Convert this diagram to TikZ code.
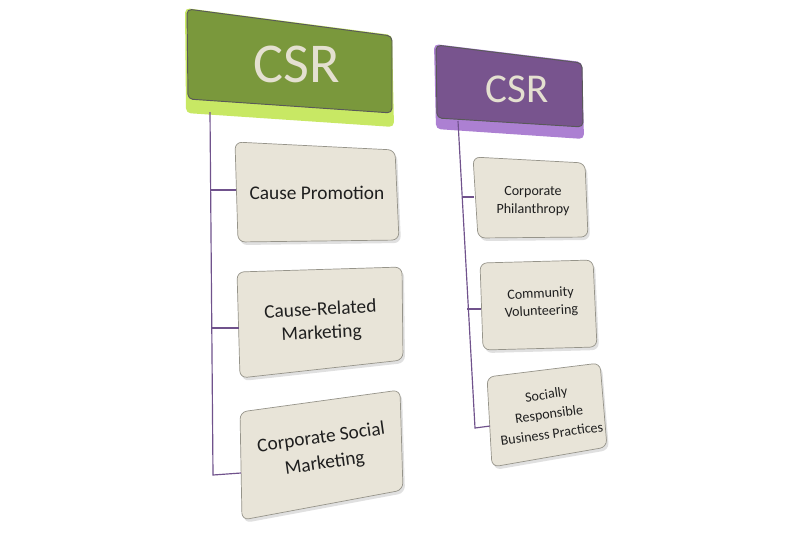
\documentclass[tikz,border=0pt]{standalone}
\usepackage{fontspec}
\setmainfont{Carlito}
\usetikzlibrary{positioning}
\definecolor{csrgreen}{RGB}{122,152,60}
\definecolor{csrgreenlt}{RGB}{200,232,100}
\definecolor{csrpurple}{RGB}{120,84,142}
\definecolor{csrpurplelt}{RGB}{172,128,210}
\definecolor{itembeige}{RGB}{232,228,216}
\definecolor{itemedge}{RGB}{150,148,138}
\definecolor{treeline}{RGB}{112,82,140}
\definecolor{headtext}{RGB}{228,224,208}
\tikzset{head rim/.style={rounded corners=4pt},
         head face/.style={rounded corners=4pt,draw=black!65,line width=0.8pt},
         item shadow/.style={rounded corners=6pt,fill=black!12},
         item face/.style={rounded corners=6pt,fill=itembeige,draw=itemedge,line width=0.6pt},
         head text/.style={text=headtext,inner sep=0pt},
         item text/.style={align=center,text=black!88,inner sep=0pt},
         tree line/.style={treeline,line width=1pt},
}

\begin{document}
\begin{tikzpicture}[x=0.3mm,y=-0.3mm]
\useasboundingbox[fill=white] (0,0) rectangle (800,534);

% green header
\fill[head rim,csrgreenlt] (185,8) -- (392,35) -- (394,127) -- (186,113) -- cycle;
\filldraw[head face,fill=csrgreen] (187,9) -- (392,36) -- (392,113) -- (188,99) -- cycle;
\node[head text,font=\fontsize{48}{50}\selectfont] (lhead) at (297,64) {CSR};

% purple header
\fill[head rim,csrpurplelt] (434,44) -- (582,62) -- (584,139) -- (436,129) -- cycle;
\filldraw[head face,fill=csrpurple] (436,45) -- (582,63) -- (583,127) -- (437,118) -- cycle;
\node[head text,font=\fontsize{35}{37}\selectfont] (rhead) at (517,89) {CSR};

% left column
\fill[item shadow] (237,145) -- (397,153) -- (401,243) -- (240,245) -- cycle;
\filldraw[item face] (235,142) -- (395,150) -- (399,240) -- (238,242) -- cycle;
\node[item text,font=\fontsize{16.5}{19}\selectfont] (cp) at (317,193) {Cause Promotion};

\fill[item shadow] (239,275) -- (404,270) -- (405,363) -- (242,381) -- cycle;
\filldraw[item face] (237,272) -- (402,267) -- (403,360) -- (240,378) -- cycle;
\node[item text,font=\fontsize{16.5}{20}\selectfont,rotate=3] (crm) at (321,322) {Cause-Related\\Marketing};

\fill[item shadow] (242,415) -- (402,393) -- (405,493) -- (244,523) -- cycle;
\filldraw[item face] (240,412) -- (400,390) -- (403,490) -- (242,520) -- cycle;
\node[item text,font=\fontsize{16.5}{22}\selectfont,rotate=8] (csm) at (323,451) {Corporate Social\\Marketing};

% right column
\fill[item shadow] (475,160) -- (587,166) -- (590,240) -- (480,241) -- cycle;
\filldraw[item face] (473,157) -- (585,163) -- (588,237) -- (478,238) -- cycle;
\node[item text,font=\fontsize{12}{15}\selectfont] (cph) at (533,201) {Corporate\\Philanthropy};

\fill[item shadow] (482,266) -- (595,263) -- (599,350) -- (485,353) -- cycle;
\filldraw[item face] (480,263) -- (593,260) -- (597,347) -- (483,350) -- cycle;
\node[item text,font=\fontsize{12}{15}\selectfont,rotate=3] (cv) at (541,303) {Community\\Volunteering};

\fill[item shadow] (489,380) -- (602,366) -- (609,450) -- (494,470) -- cycle;
\filldraw[item face] (487,377) -- (600,363) -- (607,447) -- (492,467) -- cycle;
\node[item text,font=\fontsize{12}{17}\selectfont,rotate=8] (srb) at (549,414) {Socially\\Responsible\\Business Practices};

% connectors
\coordinate (ltop) at (210,112);
\coordinate (l1) at (210,190);
\coordinate (l2) at (211.5,328);
\coordinate (lbot) at (213,475);
\coordinate (l1e) at (236,190);
\coordinate (l2e) at (238.5,328);
\coordinate (l3e) at (241,473);
\draw[tree line] (ltop) -- (lbot) -- (l3e);
\draw[tree line] (l1) -- (l1e);
\draw[tree line] (l2) -- (l2e);

\coordinate (rtop) at (458,121);
\coordinate (r1) at (462,197);
\coordinate (r2) at (467,309);
\coordinate (rbot) at (475,428);
\coordinate (r1e) at (474,197);
\coordinate (r2e) at (481,309);
\coordinate (r3e) at (490,426);
\draw[tree line] (rtop) -- (rbot) -- (r3e);
\draw[tree line] (r1) -- (r1e);
\draw[tree line] (r2) -- (r2e);
\end{tikzpicture}
\end{document}
